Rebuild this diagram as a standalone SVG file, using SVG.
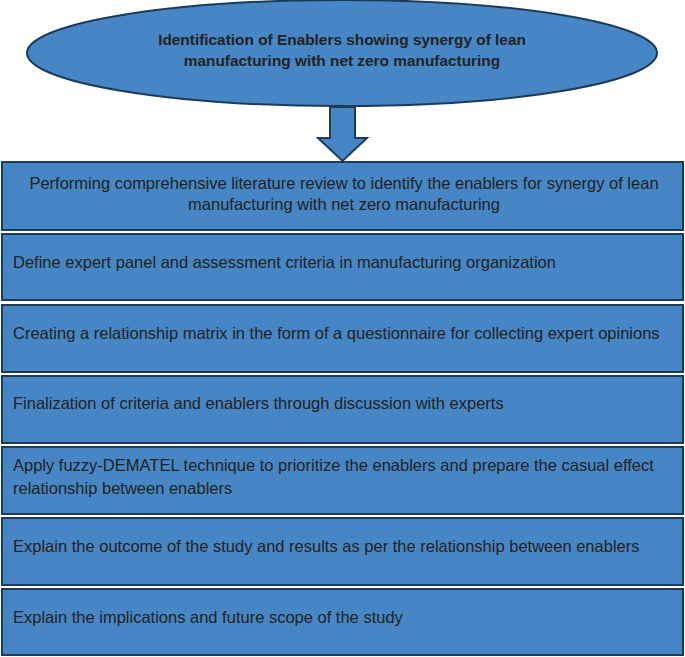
<svg xmlns="http://www.w3.org/2000/svg" width="685" height="657" viewBox="0 0 685 657">
<style>
.shape{fill:#4786c4;stroke:#1d3b58;stroke-width:2}
.t{font-family:"Liberation Sans",Arial,sans-serif;font-size:16.5px;fill:#222}
.c{text-anchor:middle}
.b{font-weight:bold;font-size:15.4px}
</style>
<rect width="685" height="657" fill="#fff"/>
<g id="n0">
<ellipse class="shape" cx="342" cy="53" rx="315" ry="53"/>
<text class="t c b" x="342" y="45">Identification of Enablers showing synergy of lean</text>
<text class="t c b" x="342" y="66">manufacturing with net zero manufacturing</text>
</g>
<g id="connectors">
<polygon class="shape" points="330,107 355,107 355,138 367,138 342.5,161 318,138 330,138"/>
</g>
<g id="n1">
<rect class="shape" x="2" y="162" width="681" height="68"/>
<text class="t c" x="344" y="189">Performing comprehensive literature review to identify the enablers for synergy of lean</text>
<text class="t c" x="344" y="210">manufacturing with net zero manufacturing</text>
</g>
<g id="n2">
<rect class="shape" x="2" y="234" width="681" height="66"/>
<text class="t" x="13" y="268">Define expert panel and assessment criteria in manufacturing organization</text>
</g>
<g id="n3">
<rect class="shape" x="2" y="305" width="681" height="67"/>
<text class="t" x="13" y="339">Creating a relationship matrix in the form of a questionnaire for collecting expert opinions</text>
</g>
<g id="n4">
<rect class="shape" x="2" y="376" width="681" height="67"/>
<text class="t" x="13" y="409">Finalization of criteria and enablers through discussion with experts</text>
</g>
<g id="n5">
<rect class="shape" x="2" y="447" width="681" height="67"/>
<text class="t" x="13" y="471">Apply fuzzy-DEMATEL technique to prioritize the enablers and prepare the casual effect</text>
<text class="t" x="13" y="494">relationship between enablers</text>
</g>
<g id="n6">
<rect class="shape" x="2" y="518" width="681" height="67"/>
<text class="t" x="13" y="552">Explain the outcome of the study and results as per the relationship between enablers</text>
</g>
<g id="n7">
<rect class="shape" x="2" y="589" width="681" height="66"/>
<text class="t" x="13" y="623">Explain the implications and future scope of the study</text>
</g>
</svg>
